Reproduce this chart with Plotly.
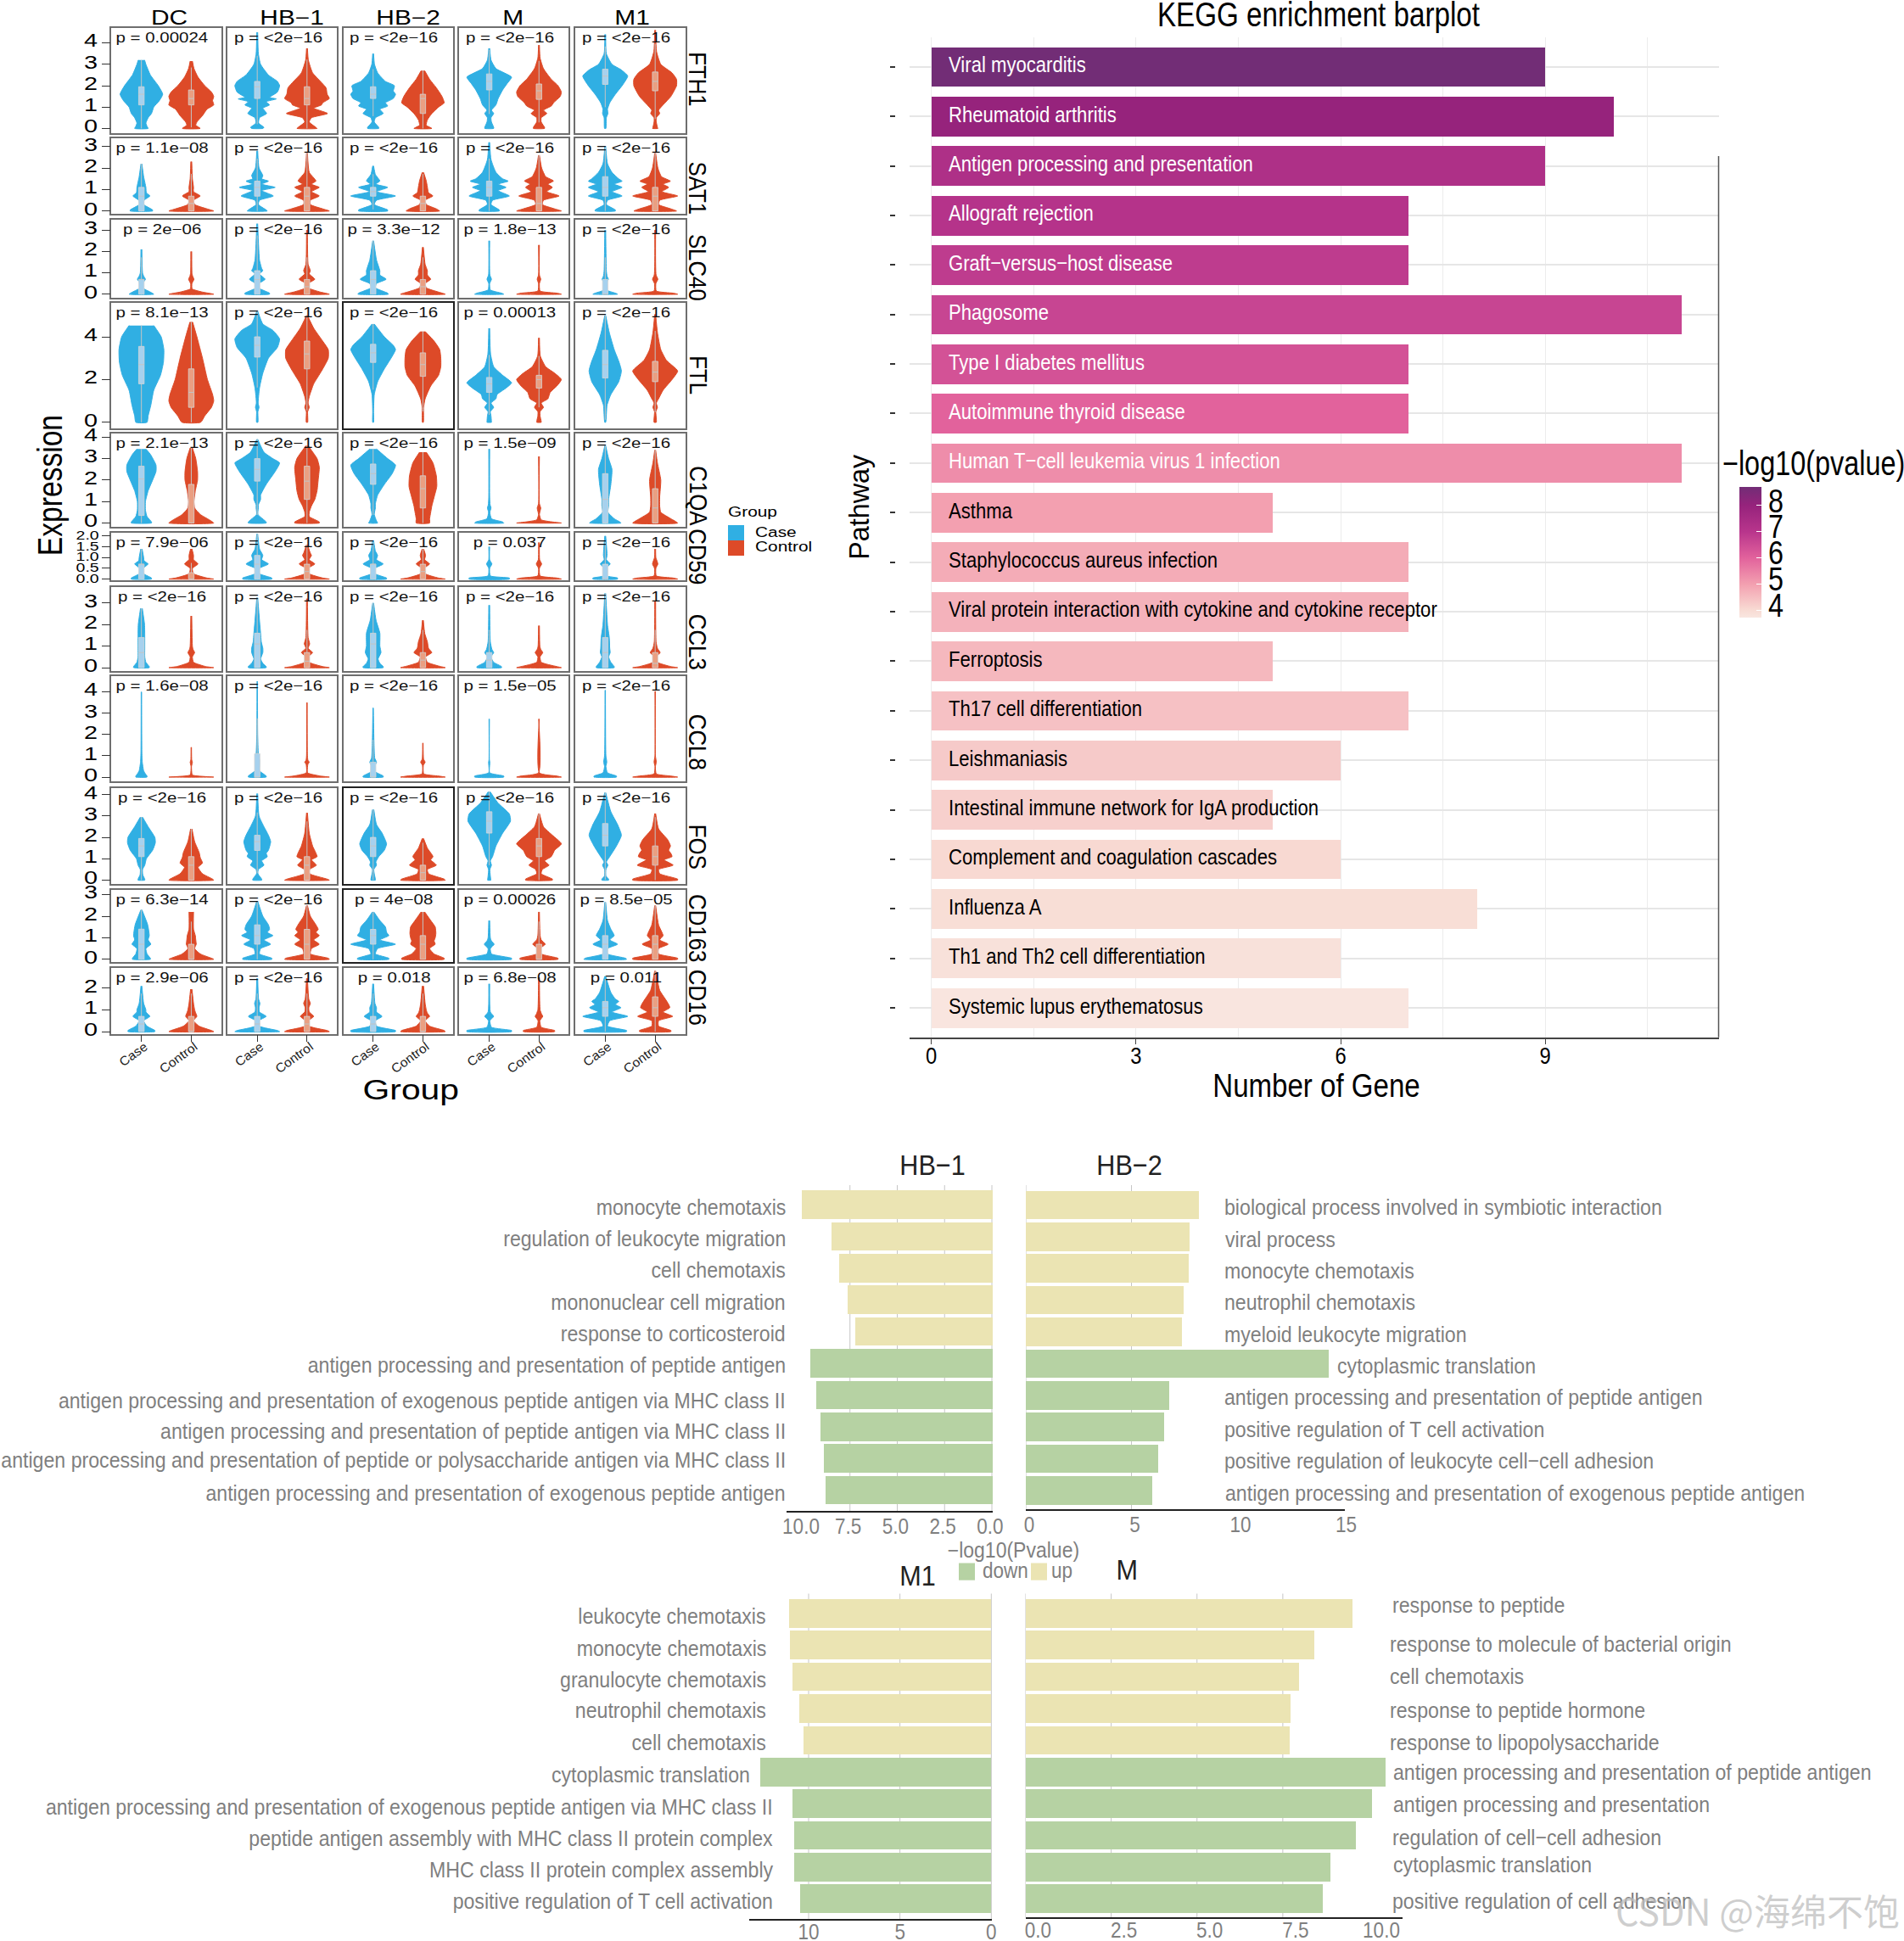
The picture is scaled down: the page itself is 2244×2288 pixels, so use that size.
import plotly.graph_objects as go

W, H = 2244, 2288

def S(k):
    """Liberation Sans, with a tag that tells the page script how wide to set the glyphs (the reference's text is stretched)."""
    return f"stretch-{k}, Liberation Sans, Arial"

# ---------------- violin grid data ----------------
CELLS = ["DC", "HB\u22121", "HB\u22122", "M", "M1"]
CELL_TITLE_X = [199, 343.6, 480.7, 604.8, 744.8]
GENES = ["FTH1", "SAT1", "SLC40", "FTL", "C1QA", "CD59", "CCL3", "CCL8", "FOS", "CD163", "CD16"]
GENE_LABEL_Y = [93.4, 222, 315, 442, 584, 656.5, 757, 875, 998, 1094, 1176]
U = "<2e\u221216"
PVALS = [
    ["0.00024", U, U, U, U],
    ["1.1e\u221208", U, U, U, U],
    ["2e\u221206", U, "3.3e\u221212", "1.8e\u221213", U],
    ["8.1e\u221213", U, U, "0.00013", U],
    ["2.1e\u221213", U, U, "1.5e\u221209", U],
    ["7.9e\u221206", U, U, "0.037", U],
    [U, U, U, U, U],
    ["1.6e\u221208", U, U, "1.5e\u221205", U],
    [U, U, U, U, U],
    ["6.3e\u221214", U, "4e\u221208", "0.00026", "8.5e\u221205"],
    ["2.9e\u221206", U, "0.018", "6.8e\u221208", "0.011"],
]
# Each profile: y, relative half width, y, relative half width ... (top to bottom)
# Order: DC case, DC control, HB-1 case, HB-1 control, HB-2 case, HB-2 control, M case, M control, M1 case, M1 control
FTH1 = [
 [3.2,.14,3,.2,2.5,.4,2,.75,1.6,.95,1.3,.8,1,.55,.7,.45,.5,.3,.25,.2,.1,.25,0,.3],
 [3.15,.05,2.8,.12,2.4,.3,2,.6,1.7,.9,1.5,1,1.3,.95,1.1,1,.9,.7,.6,.5,.3,.25,.15,.2,0,.4],
 [4.5,.02,3.5,.05,3,.15,2.5,.5,2.2,.9,2,1,1.7,.9,1.45,.55,1.38,.85,1.25,.4,1.1,.55,.95,.25,.7,.42,.5,.1,.25,.06,.05,.3,0,.25],
 [3.75,.02,3.2,.06,2.6,.25,2.2,.6,1.9,.85,1.6,.9,1.4,1,1.2,.7,1.1,.65,.95,.3,.7,.92,.5,.2,.3,.1,.05,.4,0,.45],
 [3.5,.02,3,.06,2.6,.2,2.2,.55,2,.95,1.75,.9,1.6,1,1.4,.9,1.2,.55,1.05,.65,.9,.3,.7,.45,.5,.1,.3,.05,.05,.25,0,.25],
 [2.7,.08,2.3,.3,1.9,.6,1.5,.85,1.2,.95,1,.7,.7,.4,.4,.2,.15,.15,0,.4],
 [3.75,.02,3.2,.08,2.8,.3,2.4,1,2.1,.8,1.8,.6,1.4,.4,1.1,.3,.85,.1,.7,.2,.5,.08,.3,.1,.05,.2,0,.2],
 [3.9,.02,3.3,.05,2.8,.2,2.3,.55,2,.85,1.7,1,1.5,.95,1.2,.65,1.05,.55,.85,.2,.7,.35,.5,.1,.3,.1,.05,.25,0,.25],
 [4.4,.02,3.5,.05,3,.3,2.75,.7,2.45,1,2,.75,1.6,.45,1.2,.2,.9,.1,.7,.12,.5,.05,0,.03],
 [4.6,.02,3.6,.06,3,.25,2.6,.75,2.3,.95,2,.95,1.5,.7,1.1,.35,.85,.15,.7,.2,.5,.05,.3,.05,.05,.1,0,.12],
]
SAT1 = [
 [2.2,.02,1.6,.1,1.1,.2,.85,.22,.7,.38,.5,.12,.3,.1,.05,.5,0,.5],
 [2.3,.02,1.5,.05,1.1,.1,.9,.1,.7,.4,.5,.1,.3,.15,.1,.7,0,1],
 [2.8,.02,2,.08,1.65,.25,1.5,.2,1.39,.5,1.25,.2,1.1,.8,.95,.2,.7,.72,.5,.1,.3,.05,.05,.4,0,.45],
 [2.7,.02,1.8,.1,1.4,.4,1.25,.2,1.1,.55,.9,.2,.7,.55,.5,.15,.3,.15,.1,.7,0,1],
 [2.1,.02,1.7,.1,1.4,.3,1.25,.12,1.1,.65,.9,.15,.7,1,.5,.15,.3,.05,.05,.65,0,.65],
 [1.8,.03,1.4,.15,1,.22,.85,.25,.7,.45,.5,.1,.3,.15,.1,.6,0,.75],
 [3.2,.02,2.4,.08,1.8,.3,1.5,.6,1.39,.85,1.25,.4,1.1,.75,.95,.4,.7,.9,.5,.15,.3,.08,.05,.45,0,.45],
 [2.6,.02,2,.12,1.6,.3,1.4,.65,1.25,.4,1.1,.6,.9,.35,.7,.9,.5,.2,.3,.15,.1,.7,0,1],
 [3,.02,2.2,.1,1.8,.3,1.5,.6,1.39,.75,1.25,.4,1.1,.75,.9,.3,.7,.75,.5,.1,.3,.05,.05,.45,0,.45],
 [2.7,.02,2,.12,1.6,.28,1.39,.68,1.25,.35,1.1,.6,.9,.3,.7,1,.5,.2,.3,.15,.1,.7,0,.95],
]
SLC40 = [
 [2.1,.02,1,.05,.85,.1,.7,.18,.5,.05,.3,.05,.1,.4,0,.55],
 [2,.02,1,.03,.85,.06,.7,.12,.5,.03,.25,.04,.1,.5,0,1],
 [3.3,.02,1.6,.1,1.2,.2,1.1,.25,.95,.1,.7,.35,.5,.08,.3,.05,.05,.55,0,.55],
 [3,.02,1.4,.05,1.1,.15,.95,.1,.7,.35,.5,.05,.3,.05,.1,.6,0,1],
 [2.5,.02,1.6,.15,1.1,.3,.9,.3,.7,.58,.5,.15,.3,.1,.05,.65,0,.68],
 [2.2,.02,1.4,.1,1.1,.2,.9,.2,.7,.35,.5,.1,.3,.15,.1,.7,0,1],
 [2.5,.02,.9,.03,.7,.1,.5,.02,.2,.05,.05,.55,0,.65],
 [2.3,.02,.9,.02,.7,.08,.5,.02,.15,.05,.05,.8,0,1],
 [3,.02,1.1,.05,.85,.08,.7,.14,.5,.04,.2,.05,.05,.45,0,.55],
 [3,.02,.9,.04,.7,.12,.5,.03,.15,.05,.05,.8,0,1],
]
FTL = [
 [4.53,.55,4,.88,3.4,1,2.8,.98,2.2,.85,1.5,.55,.8,.42,.3,.3,0,.25],
 [4.69,.06,4,.25,3,.5,2,.72,1.3,.95,1,1,.7,.9,.3,.6,0,.42],
 [5.2,.02,4.6,.25,4.3,.7,3.9,1,3.5,.9,3,.5,2.3,.25,1.6,.1,.9,.04,.7,.08,.5,.03,0,.03],
 [5,.02,4.4,.3,3.8,.7,3.4,.95,3,.95,2.4,.65,1.8,.3,1.2,.1,.9,.05,.7,.1,.5,.03,0,.03],
 [4.6,.05,4,.5,3.6,.9,3.4,1,3,.8,2.5,.5,1.9,.2,1.3,.05,.5,.02,0,.02],
 [4.25,.1,3.8,.5,3.4,.75,3,.8,2.6,.8,2.2,.7,1.7,.35,1.1,.1,.7,.03,0,.02],
 [4.4,.02,3.2,.06,2.6,.2,2.2,.6,1.85,1,1.6,.75,1.3,.35,1.1,.3,.9,.08,.7,.2,.5,.05,.3,.08,.05,.1,0,.1],
 [3.95,.02,3.1,.06,2.6,.3,2.3,.7,2,1,1.7,.8,1.4,.5,1.1,.4,.9,.1,.7,.2,.5,.05,.3,.05,.05,.1,0,.1],
 [5,.02,4.2,.18,3.4,.4,2.8,.62,2.4,.72,1.9,.6,1.3,.25,.8,.08,0,.02],
 [5.05,.02,4.2,.1,3.4,.25,2.9,.5,2.4,1,2,.75,1.5,.35,1.1,.15,.9,.05,.7,.1,.5,.03,0,.05],
]
C1QA = [
 [3.45,.2,3.2,.4,2.7,.65,2.4,.65,2,.5,1.5,.3,1,.18,.6,.18,.3,.25,.05,.45,0,.45],
 [3.5,.05,3,.2,2.4,.28,2,.28,1.5,.18,1,.12,.7,.15,.4,.4,.15,.8,0,1],
 [3.9,.02,3.3,.3,3,.7,2.8,1,2.4,.8,1.8,.4,1.3,.15,1.1,.15,.85,.05,.7,.05,.4,.03,.05,.4,0,.4],
 [3.6,.05,3,.45,2.6,.55,2,.5,1.5,.45,1.1,.35,.8,.2,.5,.1,.3,.1,.05,.55,0,.55],
 [3.45,.15,3,.65,2.7,1,2.3,.85,1.8,.5,1.3,.2,.9,.1,.7,.1,.4,.05,.1,.15,0,.2],
 [3.3,.15,2.8,.45,2.2,.6,1.7,.62,1.2,.5,.8,.4,.5,.35,.2,.3,0,.3],
 [3.45,.02,1.2,.02,.85,.04,.7,.08,.5,.03,.2,.1,.05,.6,0,.65],
 [3.1,.02,.9,.02,.7,.08,.4,.02,.15,.1,.05,.6,0,1],
 [3.6,.02,3,.15,2.5,.3,1.8,.25,1.1,.15,.8,.15,.5,.12,.2,.4,.05,.65,0,.7],
 [3.4,.02,2.8,.1,2,.25,1.2,.2,.8,.2,.5,.25,.2,.7,0,1],
]
CD59 = [
 [1.4,.03,1,.1,.85,.12,.7,.3,.5,.08,.25,.1,.05,.45,0,.45],
 [1.4,.03,1.1,.1,.9,.1,.7,.3,.5,.05,.25,.1,.05,.7,0,1],
 [2.1,.02,1.4,.1,1.1,.25,.9,.2,.7,.5,.5,.1,.25,.1,.05,.65,0,.65],
 [1.6,.02,1.2,.15,1.1,.2,.9,.1,.7,.35,.5,.05,.25,.1,.05,.7,0,1],
 [1.8,.02,1.3,.1,1.1,.2,.9,.15,.7,.45,.5,.08,.25,.08,.05,.6,0,.6],
 [1.4,.03,1.1,.12,.9,.08,.7,.3,.5,.05,.25,.1,.05,.7,0,1],
 [1.5,.02,.9,.02,.7,.12,.5,.02,.15,.05,.05,.9,0,.9],
 [1.7,.02,.9,.03,.7,.12,.5,.02,.15,.05,.05,.8,0,1],
 [2,.02,1.1,.08,.9,.05,.7,.22,.5,.04,.15,.08,.05,.55,0,.55],
 [1.4,.02,1,.03,.7,.12,.5,.03,.15,.05,.05,.8,0,1],
]
CCL3 = [
 [2.75,.04,2,.14,1.4,.15,.9,.15,.5,.15,.25,.2,.05,.35,0,.35],
 [2.4,.02,1,.05,.85,.08,.7,.15,.5,.05,.25,.1,.05,.65,0,1],
 [3.25,.02,2.2,.1,1.6,.15,1.2,.18,.9,.25,.7,.25,.4,.15,.2,.25,.05,.4,0,.4],
 [3.2,.02,1.4,.05,1.1,.12,.9,.05,.7,.25,.5,.05,.25,.1,.05,.7,0,1],
 [3,.02,2.2,.13,1.6,.3,1,.3,.7,.35,.4,.22,.2,.3,.05,.45,0,.45],
 [2.2,.02,1.6,.08,1.2,.2,.9,.25,.7,.4,.5,.12,.25,.2,.05,.8,0,1],
 [2.9,.02,1.2,.05,.85,.12,.7,.2,.5,.08,.25,.2,.05,.55,0,.55],
 [1.95,.02,1,.04,.85,.08,.7,.17,.5,.05,.25,.1,.05,.8,0,1],
 [3.45,.02,2,.1,1.4,.18,.9,.2,.7,.22,.5,.15,.25,.25,.05,.4,0,.4],
 [3.1,.02,1.2,.04,.9,.1,.7,.22,.5,.05,.25,.1,.05,.7,0,1],
]
CCL8 = [
 [4,.01,1.2,.02,.7,.04,.3,.1,.15,.18,.05,.25,0,.25],
 [1.4,.01,.8,.02,.7,.05,.5,.01,.1,.05,.03,.55,0,1],
 [4.5,.01,2,.02,1.1,.05,.8,.1,.6,.1,.3,.1,.05,.4,0,.4],
 [3.5,.01,1,.02,.8,.04,.7,.1,.6,.04,.2,.03,.05,.6,0,1],
 [3.25,.01,1.5,.04,.9,.07,.7,.15,.5,.07,.25,.1,.05,.45,0,.45],
 [1.6,.01,.85,.03,.7,.1,.55,.02,.15,.04,.05,.7,0,1],
 [2.73,.01,.8,.01,.7,.03,.2,.02,.05,.65,0,.65],
 [2.73,.015,.2,.02,.05,.8,0,1],
 [4.08,.01,1,.03,.7,.07,.5,.03,.2,.1,.05,.5,0,.5],
 [4.03,.01,1,.01,.7,.05,.5,.01,.15,.05,.05,.7,0,1],
]
FOS = [
 [2.95,.05,2.5,.3,2,.6,1.75,.62,1.4,.5,1,.22,.7,.15,.5,.05,.25,.06,.05,.15,0,.15],
 [2.4,.03,1.8,.15,1.3,.35,1.05,.4,.8,.5,.6,.3,.3,.5,.05,.95,0,1],
 [4.05,.02,3,.08,2.5,.3,2.1,.5,1.8,.6,1.4,.5,1.25,.4,1.1,.45,.9,.2,.7,.3,.5,.05,.3,.03,.05,.2,0,.2],
 [3.15,.02,2.2,.1,1.6,.25,1.1,.45,.95,.2,.7,.42,.5,.12,.3,.12,.05,.9,0,1],
 [3.3,.03,2.6,.15,2.2,.4,1.7,.6,1.4,.5,1.1,.25,.85,.12,.7,.15,.5,.03,.3,.05,.05,.1,0,.1],
 [1.95,.03,1.5,.2,1.1,.45,.95,.35,.7,.6,.5,.2,.3,.25,.05,.95,0,1],
 [4.14,.04,3.6,.4,3.1,.9,2.76,.95,2.2,.6,1.6,.3,1.1,.15,.9,.05,.7,.1,.5,.03,.2,.05,.05,.07,0,.07],
 [3.12,.02,2.5,.2,2.1,.6,1.7,1,1.4,.7,1.1,.55,.9,.25,.7,.45,.5,.15,.3,.1,.05,.6,0,.6],
 [4.1,.02,3.2,.25,2.6,.55,2.1,.72,1.6,.5,1.1,.2,.85,.05,.7,.12,.5,.03,.2,.03,.05,.15,0,.15],
 [3.12,.02,2.4,.15,1.9,.55,1.6,.68,1.4,.6,1.25,.7,1.1,.75,.95,.4,.7,.8,.5,.15,.3,.2,.05,1,0,1],
]
CD163 = [
 [2.3,.02,1.6,.28,1.1,.35,.9,.3,.7,.42,.5,.2,.25,.25,.05,.4,0,.4],
 [2.2,.1,1.4,.1,1.1,.18,.9,.2,.7,.22,.5,.15,.25,.4,.05,.9,0,1],
 [2.7,.02,2,.25,1.6,.5,1.39,.55,1.25,.45,1.1,.7,.9,.3,.7,.6,.5,.15,.25,.1,.05,.65,0,.65],
 [2.5,.02,2,.15,1.6,.4,1.39,.5,1.25,.4,1.1,.55,.9,.3,.7,.55,.5,.2,.25,.15,.05,.95,0,1],
 [2.2,.03,1.8,.3,1.5,.55,1.25,.6,1.1,.7,.9,.3,.7,1,.5,.2,.25,.1,.05,.7,0,.7],
 [2.2,.08,1.8,.35,1.5,.55,1.2,.58,1,.55,.85,.5,.7,.55,.5,.3,.25,.5,.05,.95,0,.95],
 [1.8,.02,1,.05,.85,.1,.7,.22,.5,.05,.25,.1,.05,1,0,1],
 [2.2,.02,1.1,.05,.9,.1,.7,.28,.5,.05,.25,.1,.05,.85,0,.85],
 [2.65,.02,1.8,.1,1.4,.25,1.1,.4,.9,.2,.7,.55,.5,.1,.25,.1,.05,.9,0,.95],
 [2.5,.02,1.6,.15,1.1,.35,.9,.2,.7,.58,.5,.15,.25,.15,.05,1,0,1],
]
CD16 = [
 [2.1,.02,1.3,.1,1,.2,.9,.2,.7,.38,.5,.1,.25,.25,.05,.6,0,.6],
 [1.95,.03,1.3,.1,1,.15,.85,.2,.7,.25,.5,.1,.25,.35,.05,.9,0,1],
 [2.45,.02,1.5,.06,1.3,.12,1.1,.08,.9,.1,.7,.4,.5,.07,.25,.1,.05,.9,0,1],
 [2.45,.02,1.5,.08,1.3,.15,1.1,.08,.9,.1,.7,.3,.5,.07,.25,.1,.05,.9,0,1],
 [2.2,.02,1.3,.08,1.1,.15,.9,.15,.7,.4,.5,.1,.25,.15,.05,1,0,1],
 [2.1,.03,1.3,.1,1,.15,.85,.2,.7,.3,.5,.1,.25,.3,.05,.95,0,1],
 [2.2,.02,.9,.05,.7,.2,.5,.03,.2,.1,.05,1,0,1],
 [2.5,.02,1,.05,.8,.12,.7,.17,.5,.04,.2,.1,.05,.7,0,.7],
 [2.55,.02,1.8,.25,1.5,.45,1.39,.6,1.25,.45,1.1,.7,.9,.3,.7,1,.5,.2,.25,.1,.05,.95,0,.95],
 [2.8,.02,1.9,.2,1.5,.45,1.25,.6,1.1,.65,.9,.35,.7,.78,.5,.15,.25,.15,.05,.7,0,.7],
]
PROFILES = [FTH1, SAT1, SLC40, FTL, C1QA, CD59, CCL3, CCL8, FOS, CD163, CD16]
# q1, median, q3 for every violin, same order as the profiles
BOX_FTH1 = [(1.1,1.6,1.95),(1.1,1.4,1.8),(1.4,1.95,2.2),(1.1,1.4,1.95),(1.4,1.6,1.95),(.7,1.4,1.6),(1.8,2.2,2.55),(1.36,1.76,2.08),(2.06,2.45,2.77),(1.76,2.2,2.64)]
BOX_SAT1 = [(0,.69,1.1),(0,.35,.69),(.69,1.1,1.39),(0,.69,1.1),(.69,.9,1.1),(0,.35,.69),(.69,1.1,1.39),(0,.35,1.1),(.69,1.1,1.6),(0,.69,1.1)]
BOX_SLC40 = [(0,.69,.69),(0,0,0),(0,.69,1.1),(0,.35,.69),(0,.69,1.1),(0,.35,.69),(0,0,0),(0,0,0),(0,0,.69),(0,0,0)]
BOX_FTL = [(1.8,2.7,3.55),(.7,1.4,2.5),(3.05,3.6,4),(2.5,3.2,3.8),(2.8,3.25,3.65),(2.15,2.7,3.25),(1.4,1.8,2.1),(1.6,2,2.2),(2.07,2.7,3.37),(1.9,2.35,2.85)]
BOX_C1QA = [(.35,2.05,2.65),(0,0,1.8),(1.95,2.5,3),(1.1,1.95,2.65),(1.8,2.3,2.75),(.7,1.6,2.2),(0,0,0),(0,0,0),(0,1.1,2.3),(0,.7,1.6)]
BOX_CD59 = [(0,.69,.69),(0,0,.3),(0,.69,1.1),(0,.35,.69),(0,.69,.69),(0,.35,.69),(0,0,0),(0,0,0),(0,0,.69),(0,0,0)]
BOX_CCL3 = [(0,.7,1.4),(0,0,0),(0,1.1,1.6),(0,.3,.7),(0,1.1,1.6),(0,.35,.7),(0,.35,.7),(0,0,0),(0,.7,1.4),(0,.2,.7)]
BOX_CCL8 = [(0,0,0),(0,0,0),(0,0,1.1),(0,0,0),(0,0,.7),(0,0,0),(0,0,0),(0,0,0),(0,0,0),(0,0,0)]
BOX_FOS = [(1.1,1.6,1.95),(0,.7,1.1),(1.39,1.8,2.1),(0,.7,1.1),(1.1,1.6,2),(0,.35,.7),(2.2,2.76,3.2),(1.1,1.6,1.95),(1.6,2.1,2.65),(.7,1.1,1.6)]
BOX_CD163 = [(0,.7,1.4),(0,0,.7),(.7,1.1,1.6),(0,.7,1.39),(.7,1.1,1.39),(0,.7,1.1),(0,0,0),(0,0,.7),(0,.7,1.1),(0,.7,1.1)]
BOX_CD16 = [(0,.35,.7),(0,0,.7),(0,.35,.7),(0,.35,.7),(0,.35,.7),(0,0,.7),(0,0,0),(0,0,0),(.7,1.1,1.39),(.7,1.1,1.6)]
BOXES = [BOX_FTH1, BOX_SAT1, BOX_SLC40, BOX_FTL, BOX_C1QA, BOX_CD59, BOX_CCL3, BOX_CCL8, BOX_FOS, BOX_CD163, BOX_CD16]
Y_TICKS = [[0,1,2,3,4],[0,1,2,3],[0,1,2,3],[0,2,4],[0,1,2,3,4],[0,.5,1,1.5,2],[0,1,2,3],[0,1,2,3,4],[0,1,2,3,4],[0,1,2,3],[0,1,2]]
Y_TEXT = [None]*5 + [["0.0","0.5","1.0","1.5","2.0"]] + [None]*5

# layout of the violin grid (pixels)
COL_X = [(131.4,260.7),(268,397),(404.6,533.6),(541.4,670.4),(678,807.5)]
ROW_Y = [(32.8,157),(163.3,252.3),(259,350.7),(357.4,505),(510.9,621),(627.7,684.4),(691.5,791),(797,921.4),(928.6,1042.4),(1049,1134),(1140.6,1218.7)]
ROW_ZERO = [151.4,248.7,346.8,497.8,616.5,682.6,787,916,1037.5,1130.8,1216]
ROW_UNIT = [25.2,25.3,25.2,25.2,25.3,25.4,25.4,25.1,25.2,25.4,25.6]
DARK_PANELS = {(3,2),(8,2),(9,2)}
GROUPS = ["Case", "Control"]
CASE_C, CTRL_C = "#30AFE3", "#DD4A28"
CASE_BOX, CTRL_BOX = "#A6D1EE", "#EA9F82"
BOX_WIDTH = .11

# ---------------- KEGG data ----------------
PATHWAYS = ["Viral myocarditis","Rheumatoid arthritis","Antigen processing and presentation","Allograft rejection",
 "Graft\u2212versus\u2212host disease","Phagosome","Type I diabetes mellitus","Autoimmune thyroid disease",
 "Human T\u2212cell leukemia virus 1 infection","Asthma","Staphylococcus aureus infection",
 "Viral protein interaction with cytokine and cytokine receptor","Ferroptosis","Th17 cell differentiation","Leishmaniasis",
 "Intestinal immune network for IgA production","Complement and coagulation cascades","Influenza A",
 "Th1 and Th2 cell differentiation","Systemic lupus erythematosus"]
GENE_COUNT = [9,10,9,7,7,11,7,7,11,5,7,7,5,7,6,5,6,8,6,7]
NEG_LOG_P = [8.7,8.0,7.3,7.1,6.85,6.65,6.35,6.0,5.3,5.0,4.8,4.7,4.6,4.45,4.3,4.2,4.05,3.95,3.87,3.75]
LABEL_COLORS = ["white"]*9 + ["black"]*11
KEGG_SCALE = [[0,"#f9e6e0"],[.054,"#f8dcd4"],[.255,"#f3a0b0"],[.457,"#e2629c"],[.658,"#b8358c"],[.859,"#96237c"],[1,"#722d76"]]

# ---------------- GO panels data ----------------
HB1_TERMS = ["monocyte chemotaxis","regulation of leukocyte migration","cell chemotaxis","mononuclear cell migration",
 "response to corticosteroid","antigen processing and presentation of peptide antigen",
 "antigen processing and presentation of exogenous peptide antigen via MHC class II",
 "antigen processing and presentation of peptide antigen via MHC class II",
 "antigen processing and presentation of peptide or polysaccharide antigen via MHC class II",
 "antigen processing and presentation of exogenous peptide antigen"]
HB1_VALUES = [10.07,8.51,8.1,7.65,7.23,9.62,9.31,9.06,8.92,8.81]
HB2_TERMS = ["biological process involved in symbiotic interaction","viral process","monocyte chemotaxis","neutrophil chemotaxis",
 "myeloid leukocyte migration","cytoplasmic translation","antigen processing and presentation of peptide antigen",
 "positive regulation of T cell activation","positive regulation of leukocyte cell\u2212cell adhesion",
 "antigen processing and presentation of exogenous peptide antigen"]
HB2_VALUES = [8.18,7.77,7.7,7.46,7.4,14.34,6.78,6.54,6.27,5.98]
M1_TERMS = ["leukocyte chemotaxis","monocyte chemotaxis","granulocyte chemotaxis","neutrophil chemotaxis","cell chemotaxis",
 "cytoplasmic translation","antigen processing and presentation of exogenous peptide antigen via MHC class II",
 "peptide antigen assembly with MHC class II protein complex","MHC class II protein complex assembly",
 "positive regulation of T cell activation"]
M1_VALUES = [11.07,11.01,10.9,10.5,10.29,12.67,10.88,10.8,10.8,10.48]
M_TERMS = ["response to peptide","response to molecule of bacterial origin","cell chemotaxis","response to peptide hormone",
 "response to lipopolysaccharide","antigen processing and presentation of peptide antigen","antigen processing and presentation",
 "regulation of cell\u2212cell adhesion","cytoplasmic translation","positive regulation of cell adhesion"]
M_VALUES = [9.51,8.4,7.95,7.71,7.68,10.49,10.09,9.61,8.87,8.66]
DIRECTION = ["up"]*5 + ["down"]*5
UP_C, DOWN_C = "#EBE4B3", "#B6D2A3"
GREY = "#7f7f7f"

fig = go.Figure()
layout = {}
ann = []
shapes = []

def dx(px): return px / W
def dy(px): return 1 - px / H

def axis_names(k):
    s = "" if k == 1 else str(k)
    return "x" + s, "y" + s, "xaxis" + s, "yaxis" + s

def note(text, x, y, size, family=S(85), color="black", xanchor="center", angle=0):
    ann.append(dict(text=text, x=dx(x), y=dy(y), xref="paper", yref="paper", showarrow=False,
                    font=dict(size=size, family=family, color=color), xanchor=xanchor, yanchor="middle", textangle=angle))

# ---------------- violin grid ----------------
n = 0
for r, gene in enumerate(GENES):
    for c, cell in enumerate(CELLS):
        n += 1
        xa, ya, xk_, yk_ = axis_names(n)
        x0, x1 = COL_X[c]
        y0, y1 = ROW_Y[r]
        edge = "#222222" if (r, c) in DARK_PANELS else "#6e6e6e"
        last = r == len(GENES) - 1
        layout[xk_] = dict(domain=[dx(x0), dx(x1)], anchor=ya, range=[.4, 2.6], showgrid=False, zeroline=False,
            showline=True, mirror=True, linecolor=edge, linewidth=1.5,
            tickvals=[1, 2] if last else [], ticktext=GROUPS if last else [], ticks="outside" if last else "",
            ticklen=8, tickcolor="#333", tickangle=-36, ticklabelstandoff=-9, ticklabelshift=4,
            tickfont=dict(family=S(105), size=15, color="#222"))
        zero, unit = ROW_ZERO[r], ROW_UNIT[r]
        layout[yk_] = dict(domain=[dy(y1), dy(y0)], anchor=xa, range=[(zero - y1) / unit, (zero - y0) / unit],
            showgrid=False, zeroline=False, showline=True, mirror=True, linecolor=edge, linewidth=1.5,
            tickvals=Y_TICKS[r] if c == 0 else [], ticktext=Y_TEXT[r] if (c == 0 and Y_TEXT[r]) else None,
            ticks="outside" if c == 0 else "", ticklen=10, tickcolor="#333", ticklabelshift=-1 if r == 5 else -3,
            tickfont=dict(family=S(130) if r == 5 else S(128), size=15 if r == 5 else 22.5, color="black"))
        for g, centre in enumerate([1, 2]):
            prof = PROFILES[r][2 * c + g]
            ys, ws = prof[::2], prof[1::2]
            px_r = [centre + .45 * w for w in ws]
            px_l = [centre - .45 * w for w in ws[::-1]]
            colour = CASE_C if g == 0 else CTRL_C
            fig.add_trace(go.Scatter(x=px_r + px_l, y=ys + ys[::-1], mode="lines", fill="toself", fillcolor=colour,
                line=dict(color=colour, width=1, shape="spline", smoothing=.5), xaxis=xa, yaxis=ya,
                name=GROUPS[g], hoverinfo="skip"))
            q1, med, q3 = BOXES[r][2 * c + g]
            if q3 > q1:
                iqr = q3 - q1
                low, high = max(0, q1 - 1.5 * iqr), min(ys[0], q3 + 1.5 * iqr)
                bl, br = centre - BOX_WIDTH / 2, centre + BOX_WIDTH / 2
                box_line = dict(color="#c4c4c4", width=1)
                fig.add_trace(go.Scatter(x=[centre, centre, None, centre, centre], y=[low, q1, None, q3, high], mode="lines",
                    line=box_line, xaxis=xa, yaxis=ya, hoverinfo="skip"))
                fig.add_trace(go.Scatter(x=[bl, br, br, bl, bl], y=[q1, q1, q3, q3, q1], mode="lines", fill="toself",
                    fillcolor=CASE_BOX if g == 0 else CTRL_BOX, line=dict(color="#d5d5d5", width=.8), xaxis=xa, yaxis=ya, hoverinfo="skip"))
                fig.add_trace(go.Scatter(x=[bl, br], y=[med, med], mode="lines", line=box_line, xaxis=xa, yaxis=ya, hoverinfo="skip"))
        ann.append(dict(text="p = " + PVALS[r][c], xref=f"{xa} domain", yref=f"{ya} domain", x=.5, y=1, xshift=-5, yshift=-11,
                        showarrow=False, xanchor="center", yanchor="middle", font=dict(family=S(124), size=16.5, color="#111")))
    note(gene, 822.5, GENE_LABEL_Y[r], 30, family=S(86), angle=90)

for c, cell in enumerate(CELLS):
    note(cell, CELL_TITLE_X[c], 21, 23, family=S(130))
note("Expression", 59, 572, 40, family=S(84), angle=-90)
note("Group", 484, 1284, 34, family=S(120))
note("Group", 856, 604, 16.7, family=S(125), xanchor="left")
note("Case", 888, 627, 16.7, family=S(125), xanchor="left")
note("Control", 888, 645, 16.7, family=S(125), xanchor="left")
for yy, colr in [(619, CASE_C), (637, CTRL_C)]:
    shapes.append(dict(type="rect", xref="paper", yref="paper", x0=dx(858), x1=dx(877), y0=dy(yy + 18), y1=dy(yy), fillcolor=colr, line_width=0))

# ---------------- KEGG bars ----------------
n += 1
xk, yk, xk_, yk_ = axis_names(n)
K_TOP, K_BOT, K_L, K_R = 43.8, 1222.7, 1072, 2025.5
layout[xk_] = dict(domain=[dx(K_L), dx(K_R)], anchor=yk, range=[(K_L - 1097.6) / 80.4, (K_R - 1097.6) / 80.4],
    tickvals=[0, 3, 6, 9], showgrid=True, gridcolor="#ececec", gridwidth=1, zeroline=False, showline=True, linecolor="#444", linewidth=2,
    ticks="outside", ticklen=6, tickcolor="#444", ticklabelstandoff=-10, tickfont=dict(family=S(85), size=28, color="black"),
    minor=dict(dtick=1.5, tick0=0, showgrid=True, gridcolor="#ececec", gridwidth=1, ticks=""))
layout[yk_] = dict(domain=[dy(K_BOT), dy(K_TOP)], anchor="free", position=dx(1054.5), type="category", categoryorder="array", categoryarray=PATHWAYS,
    range=[19.594, -0.6], showticklabels=False, ticks="outside", ticklen=6, tickwidth=2, tickcolor="#333", showgrid=True, gridcolor="#e6e6e6", gridwidth=2, zeroline=False, showline=False)
fig.add_trace(go.Bar(y=PATHWAYS, x=GENE_COUNT, orientation="h", width=.8, xaxis=xk, yaxis=yk, hoverinfo="skip",
    marker=dict(color=NEG_LOG_P, colorscale=KEGG_SCALE, cmin=3.73, cmax=8.7, line_width=0,
        colorbar=dict(x=dx(2050), xanchor="left", y=dy(650.5), yanchor="middle", lenmode="pixels", len=154.4,
            thicknessmode="pixels", thickness=26, tickvals=[4, 5, 6, 7, 8], ticks="inside", tickcolor="white", ticklen=6,
            outlinewidth=0, borderwidth=0, xpad=0, ypad=0, tickfont=dict(family=S(85), size=38, color="black")))))
fig.add_trace(go.Scatter(y=PATHWAYS, x=[.254] * 20, mode="text", text=PATHWAYS, textposition="middle right", cliponaxis=False,
    textfont=dict(family=S(85), size=26, color=LABEL_COLORS), xaxis=xk, yaxis=yk, hoverinfo="skip"))
shapes.append(dict(type="line", xref="paper", yref="paper", x0=dx(K_R), x1=dx(K_R), y0=dy(184), y1=dy(K_BOT), line=dict(color="#555", width=1.5)))
note("KEGG enrichment barplot", 1554, 17, 40, family=S(83))
note("Pathway", 1012, 598, 34, family=S(95), angle=-90)
note("Number of Gene", 1551, 1280, 38, family=S(87))
note("\u2212log10(pvalue)", 2028, 546, 40, family=S(81), xanchor="left")

# ---------------- GO panels ----------------
PANELS = [
 dict(terms=HB1_TERMS, vals=HB1_VALUES, title="HB\u22121", tx=1099, ty=1373, x=(926.5, 1170), y=(1397, 1781), zero=1169, unit=22.3, rev=True,
      c0=1420, step=37.4, ticks=[0, 2.5, 5, 7.5, 10], tt=["0.0", "2.5", "5.0", "7.5", "10.0"], grid=[0, 2.5, 5, 7.5], lab="right", shift=2, stand=-5,
      lx=[927.5]*10, dy=[3,3,2,3,2,2,7,5,2,3]),
 dict(terms=HB2_TERMS, vals=HB2_VALUES, title="HB\u22122", tx=1331, ty=1373, x=(1209, 1585), y=(1397, 1779.3), zero=1209, unit=24.9, rev=False,
      c0=1420.4, step=37.4, ticks=[0, 5, 10, 15], tt=["0", "5", "10", "15"], grid=[0, 5], lab="left", shift=4, stand=-5,
      lx=[1441,1442,1441,1441,1441,1573.6,1441,1441,1441,1442], dy=[3,3,3,2,3,3,2,3,2,3]),
 dict(terms=M1_TERMS, vals=M1_VALUES, title="M1", tx=1081, ty=1857, x=(883, 1169), y=(1878.5, 2262), zero=1168.3, unit=21.53, rev=True,
      c0=1901.4, step=37.36, ticks=[0, 5, 10], tt=["0", "5", "10"], grid=[0, 5, 10], lab="right", shift=0, stand=-8,
      lx=[904.6,904.6,904.6,904.6,904.6,885.6,913,913,913,913], dy=[4,4,4,3,3,4,4,4,4,3]),
 dict(terms=M_TERMS, vals=M_VALUES, title="M", tx=1328, ty=1850, x=(1208.5, 1653.3), y=(1878.5, 2260.3), zero=1208.5, unit=40.45, rev=False,
      c0=1901.4, step=37.36, ticks=[0, 2.5, 5, 7.5, 10], tt=["0.0", "2.5", "5.0", "7.5", "10.0"], grid=[0, 2.5, 5, 7.5], lab="left", shift=15, stand=-8,
      lx=[1639,1636,1636,1636,1636,1640,1640,1639,1640,1639], dy=[-9,-1,0,3,3,1,1,3,-2,3]),
]
for P in PANELS:
    n += 1
    xa, ya, xk_, yk_ = axis_names(n)
    a = (P["x"][0] - P["zero"]) / P["unit"]
    b = (P["x"][1] - P["zero"]) / P["unit"]
    rng = [-a, -b] if P["rev"] else [a, b]
    layout[xk_] = dict(domain=[dx(P["x"][0]), dx(P["x"][1])], anchor=ya, range=rng, tickvals=P["ticks"], ticktext=P["tt"],
        showgrid=False, zeroline=False, showline=True, linecolor="#222", linewidth=2, ticks="",
        ticklabelstandoff=P["stand"], ticklabelshift=P["shift"], tickfont=dict(family=S(90), size=25, color=GREY))
    layout[yk_] = dict(domain=[dy(P["y"][1]), dy(P["y"][0])], anchor=xa, type="category", categoryorder="array", categoryarray=P["terms"],
        range=[(P["y"][1] - P["c0"]) / P["step"], (P["y"][0] - P["c0"]) / P["step"]], showticklabels=False, ticks="", showgrid=False, zeroline=False, showline=False)
    for v in P["grid"]:
        shapes.append(dict(type="line", xref=xa, x0=v, x1=v, yref=f"{ya} domain", y0=0, y1=1, layer="below", line=dict(color="#c6c6c6", width=1)))
    fig.add_trace(go.Bar(y=P["terms"], x=P["vals"], orientation="h", width=.9, xaxis=xa, yaxis=ya, hoverinfo="skip",
        marker=dict(color=[UP_C if d == "up" else DOWN_C for d in DIRECTION], line_width=0)))
    for t, lx, sh in zip(P["terms"], P["lx"], P["dy"]):
        ann.append(dict(text=t, x=dx(lx), xref="paper", y=t, yref=ya, yshift=-sh, showarrow=False, xanchor=P["lab"], yanchor="middle",
                        font=dict(family=S(89), size=26, color=GREY)))
    note(P["title"], P["tx"], P["ty"], 34, family=S(90), color="#222")

note("\u2212log10(Pvalue)", 1194, 1827, 25, family=S(92), color=GREY)
note("down", 1156, 1851, 25, family=S(90), color=GREY, xanchor="left")
note("up", 1237, 1851, 25, family=S(90), color=GREY, xanchor="left")
for x0, colr in [(1130, DOWN_C), (1215, UP_C)]:
    shapes.append(dict(type="rect", xref="paper", yref="paper", x0=dx(x0), x1=dx(x0 + 19), y0=dy(1862.7), y1=dy(1842.5), fillcolor=colr, line_width=0))
note("CSDN @\u6d77\u7ef5\u4e0d\u9971", 2241, 2251, 43, family="Noto Sans CJK SC", color="rgba(190,190,190,0.75)", xanchor="right")

fig.update_layout(width=W, height=H, margin=dict(l=0, r=0, t=0, b=0, autoexpand=False), autosize=False, paper_bgcolor="white", plot_bgcolor="white",
                  showlegend=False, annotations=ann, shapes=shapes, bargap=0, **layout)

# The reference's lettering is squeezed or stretched sideways: set each text's width without changing its height.
STRETCH_JS = r"""
document.body.style.margin='0';
(function(){
  var gd=document.getElementsByClassName('plotly-graph-div')[0];
  gd.querySelectorAll('.colorbar text').forEach(function(t){
    t.setAttribute('y',parseFloat(t.getAttribute('y')||0)-5);
  });
  gd.querySelectorAll('svg text').forEach(function(t){
    var m=/stretch-(\d+)/.exec(t.style.fontFamily||''); if(!m) return;
    var s=+m[1]/100, L=t.getComputedTextLength(); if(!L) return;
    var g=t.closest('.annotation');
    if(g){
      var a=gd.layout.annotations[+g.getAttribute('data-index')];
      var dir=a.xanchor=='left'?1:(a.xanchor=='right'?-1:0);
      t.setAttribute('x',parseFloat(t.getAttribute('x'))+dir*L*(s-1)/2);
    }
    t.setAttribute('textLength',L*s);
    t.setAttribute('lengthAdjust','spacingAndGlyphs');
  });
})();
"""
fig.write_html("out.html", post_script=STRETCH_JS, config={"displayModeBar": False})
